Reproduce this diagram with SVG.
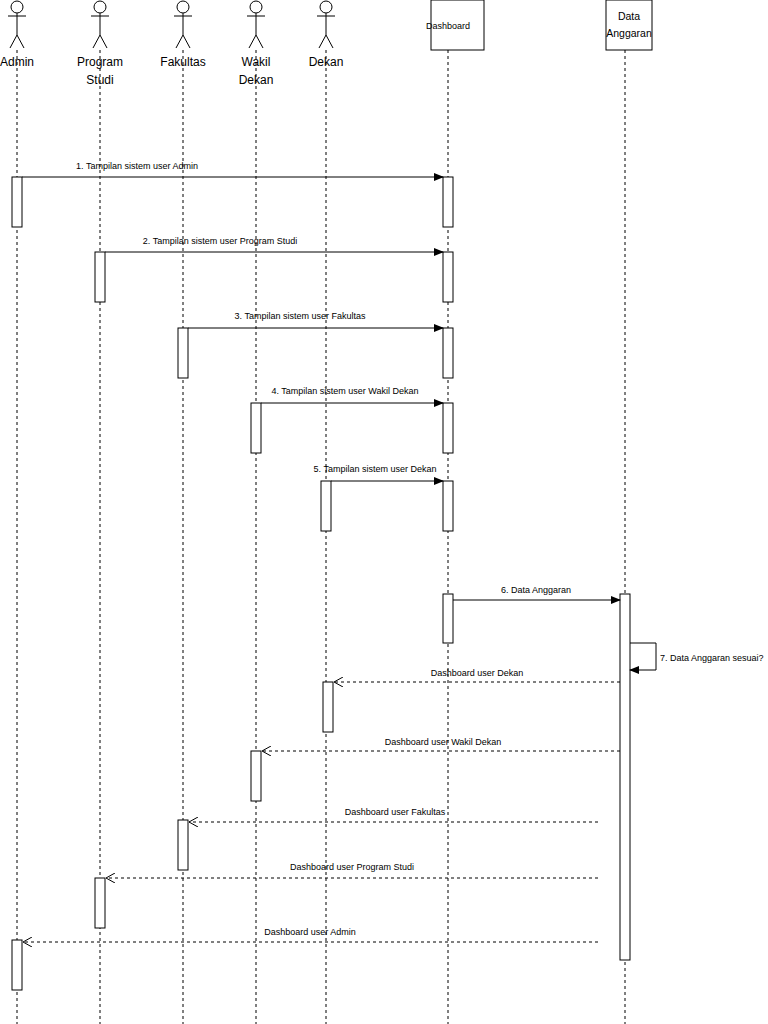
<svg xmlns="http://www.w3.org/2000/svg" width="768" height="1024" viewBox="0 0 768 1024">
<style>
text{font-family:"Liberation Sans",Arial,sans-serif;fill:#000}
.lbl{font-size:12px;text-anchor:middle}
.msg{font-size:9px;text-anchor:middle}
.life{stroke:#000;stroke-dasharray:3,3;fill:none}
.act{fill:#fff;stroke:#000;stroke-width:1}
.actor{fill:none;stroke:#000}
.sync{stroke:#000;fill:none;marker-end:url(#fill)}
.ret{stroke:#000;fill:none;stroke-dasharray:3,3;marker-end:url(#open)}
</style>
<defs>
<marker id="fill" markerWidth="10" markerHeight="8" refX="9" refY="4" orient="auto" markerUnits="userSpaceOnUse"><path d="M0,0L10,4L0,8z" fill="#000"/></marker>
<marker id="open" markerWidth="10" markerHeight="10" refX="9" refY="5" orient="auto" markerUnits="userSpaceOnUse"><path d="M0,0L9,5L0,10" fill="none" stroke="#000"/></marker>
<g id="stick"><circle cx="0" cy="7" r="6" class="actor"/><path class="actor" d="M0,13V35M-9,16H9M0,35L-7,48M0,35L7,48"/></g>
</defs>
<rect width="768" height="1024" fill="#fff"/>
<g id="lifelines">
<path class="life" d="M17,50V1024M100,50V1024M183,50V1024M256,50V1024M326,50V1024M448,50V1024M625,50V1024"/>
</g>
<g id="admin"><use href="#stick" x="17"/><text class="lbl" x="17" y="66">Admin</text></g>
<g id="prodi"><use href="#stick" x="100"/><text class="lbl" x="100" y="66">Program</text><text class="lbl" x="100" y="84">Studi</text></g>
<g id="fakultas"><use href="#stick" x="183"/><text class="lbl" x="183" y="66">Fakultas</text></g>
<g id="wakil"><use href="#stick" x="256"/><text class="lbl" x="256" y="66">Wakil</text><text class="lbl" x="256" y="84">Dekan</text></g>
<g id="dekan"><use href="#stick" x="326"/><text class="lbl" x="326" y="66">Dekan</text></g>
<g id="dashboard"><rect x="431" y="0" width="53" height="50" class="act"/><text class="msg" x="448" y="29">Dashboard</text></g>
<g id="data"><rect x="606" y="0" width="46" height="50" class="act"/><text class="lbl" x="629" y="20" style="font-size:10.5px">Data</text><text class="lbl" x="629" y="37" style="font-size:10.5px">Anggaran</text></g>
<g id="activations">
<rect class="act" x="12" y="177" width="10" height="50"/><rect class="act" x="443" y="177" width="10" height="50"/>
<rect class="act" x="95" y="252" width="10" height="50"/><rect class="act" x="443" y="252" width="10" height="50"/>
<rect class="act" x="178" y="328" width="10" height="50"/><rect class="act" x="443" y="328" width="10" height="50"/>
<rect class="act" x="251" y="403" width="10" height="50"/><rect class="act" x="443" y="403" width="10" height="50"/>
<rect class="act" x="321" y="481" width="10" height="50"/><rect class="act" x="443" y="481" width="10" height="50"/>
<rect class="act" x="443" y="594" width="10" height="49"/><rect class="act" x="620" y="594" width="10" height="366"/>
<rect class="act" x="323" y="682" width="10" height="50"/>
<rect class="act" x="251" y="751" width="10" height="50"/>
<rect class="act" x="178" y="820" width="10" height="50"/>
<rect class="act" x="95" y="878" width="10" height="50"/>
<rect class="act" x="12" y="940" width="10" height="50"/>
</g>
<g id="connectors">
<path class="sync" d="M22,177H443"/><text class="msg" x="137" y="169">1. Tampilan sistem user Admin</text>
<path class="sync" d="M105,252H443"/><text class="msg" x="220" y="244">2. Tampilan sistem user Program Studi</text>
<path class="sync" d="M188,328H443"/><text class="msg" x="300" y="319">3. Tampilan sistem user Fakultas</text>
<path class="sync" d="M261,403H443"/><text class="msg" x="345" y="394">4. Tampilan sistem user Wakil Dekan</text>
<path class="sync" d="M331,481H443"/><text class="msg" x="375" y="472">5. Tampilan sistem user Dekan</text>
<path class="sync" d="M453,600H620"/><text class="msg" x="536" y="593">6. Data Anggaran</text>
<path class="sync" d="M630,643H656V670H630"/><text class="msg" x="660" y="661" style="text-anchor:start">7. Data Anggaran sesuai?</text>
<path class="ret" d="M620,682H334"/><text class="msg" x="477" y="676">Dashboard user Dekan</text>
<path class="ret" d="M620,751H262"/><text class="msg" x="443" y="745">Dashboard user Wakil Dekan</text>
<path class="ret" d="M598,822H189"/><text class="msg" x="395" y="815">Dashboard user Fakultas</text>
<path class="ret" d="M598,878H106"/><text class="msg" x="352" y="870">Dashboard user Program Studi</text>
<path class="ret" d="M598,942H23"/><text class="msg" x="310" y="935">Dashboard user Admin</text>
</g>
</svg>
